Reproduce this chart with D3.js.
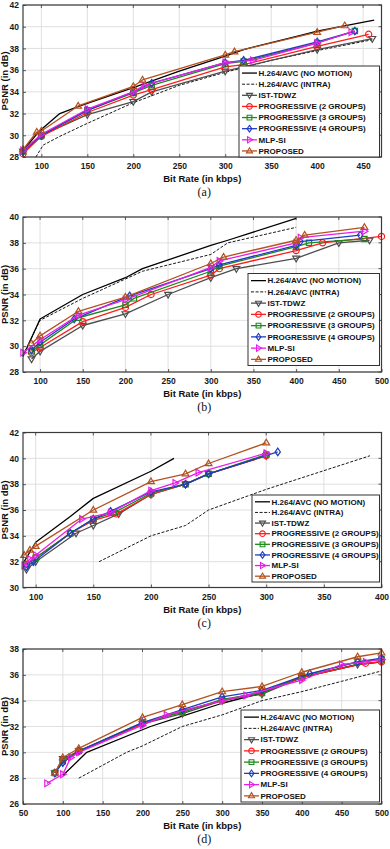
<!DOCTYPE html>
<html><head><meta charset="utf-8">
<script src="https://cdn.jsdelivr.net/npm/d3@7"></script>
<style>body{margin:0;background:#fff}svg{display:block}</style>
</head><body><script>
// ---------- DATA ----------
const SERIES = ["H.264/AVC (NO MOTION)","H.264/AVC (INTRA)","IST-TDWZ","PROGRESSIVE (2 GROUPS)","PROGRESSIVE (3 GROUPS)","PROGRESSIVE (4 GROUPS)","MLP-SI","PROPOSED"];
const CAPTIONS = ["(a)","(b)","(c)","(d)"];
const X_TITLE = "Bit Rate (in kbps)";
const Y_TITLE = "PSNR (in dB)";

// panel (a)
const A_XDOM = [80,470], A_YDOM = [28,42];
const A_XTICKS = [100,150,200,250,300,350,400,450];
const A_YTICKS = [28,30,32,34,36,38,40,42];
const A_NOMOTION = [[80,28.6],[98,30.4],[120,32.0],[142,32.7],[200,34.4],[250,35.9],[300,37.3],[320,37.9],[382,39.2],[400,39.6],[462,40.6]];
const A_INTRA = [[94,28.0],[102,29.1],[120,29.9],[150,31.1],[200,33.0],[250,34.6],[300,35.8],[350,36.9],[400,37.8],[460,38.8]];
const A_IST = [[80,28.5],[100,30.0],[150,31.9],[200,33.1],[220,34.0],[300,35.9],[320,36.3],[400,37.9],[460,38.9]];
const A_PROG2 = [[80,28.3],[100,29.9],[150,32.1],[200,33.7],[220,34.2],[300,36.3],[320,36.5],[400,38.2],[456,39.3]];
const A_PROG3 = [[80,28.5],[100,30.0],[150,32.3],[200,33.9],[220,34.6],[300,36.6],[320,36.8],[400,38.5],[441,39.6]];
const A_PROG4 = [[80,28.5],[100,30.0],[150,32.3],[200,34.0],[220,34.8],[300,36.7],[320,36.9],[400,38.6],[441,39.6]];
const A_MLP = [[80,28.6],[100,30.1],[150,32.4],[200,34.0],[212,34.6],[300,36.7],[330,36.9],[400,38.5],[437,39.5]];
const A_PROP = [[80,28.7],[95,30.3],[100,30.4],[140,32.7],[200,34.5],[210,35.1],[300,37.4],[310,37.7],[400,39.5],[430,40.1]];

// panel (b)
const B_XDOM = [80,500], B_YDOM = [28,40];
const B_XTICKS = [100,150,200,250,300,350,400,450,500];
const B_YTICKS = [28,30,32,34,36,38,40];
const B_NOMOTION = [[80,29.2],[100,32.1],[150,34.0],[200,35.3],[220,36.0],[300,37.8],[320,38.2],[400,39.9]];
const B_INTRA = [[80,29.3],[100,32.0],[150,33.7],[200,35.2],[220,35.8],[300,37.1],[320,38.0],[400,39.2]];
const B_IST = [[90,29.0],[100,29.6],[150,31.6],[200,32.5],[250,34.0],[300,35.3],[330,36.0],[400,36.8],[450,38.0],[486,38.2]];
const B_PROG2 = [[90,29.5],[100,29.9],[150,31.9],[200,33.0],[230,34.0],[300,35.5],[310,36.0],[400,37.4],[431,38.0],[500,38.5]];
const B_PROG3 = [[90,29.6],[100,30.1],[145,32.2],[200,33.2],[210,33.7],[300,35.8],[310,36.2],[400,37.7],[415,38.0],[480,38.3]];
const B_PROG4 = [[90,29.7],[100,30.3],[140,32.1],[205,33.9],[300,36.0],[310,36.3],[400,37.8],[405,38.1],[475,38.6]];
const B_MLP = [[80,29.5],[100,30.5],[145,32.4],[200,33.6],[300,36.1],[310,36.6],[400,38.0],[405,38.4],[480,38.9]];
const B_PROP = [[90,30.2],[100,30.8],[145,32.7],[200,33.8],[300,36.4],[315,36.9],[400,38.2],[410,38.6],[480,39.2]];

// panel (c)
const C_XDOM = [89,400], C_YDOM = [30,42];
const C_XTICKS = [100,150,200,250,300,350,400];
const C_YTICKS = [30,32,34,36,38,40,42];
const C_NOMOTION = [[90,32.0],[100,33.5],[130,35.5],[150,36.9],[200,39.0],[220,40.0]];
const C_INTRA = [[155,32.0],[200,34.0],[230,34.8],[250,36.0],[300,37.6],[390,40.2]];
const C_IST = [[92,31.4],[100,32.0],[135,34.2],[150,34.8],[172,35.7],[200,37.2],[230,38.0],[250,38.8],[300,40.2]];
const C_PROG2 = [[92,31.8],[100,32.3],[130,34.2],[150,35.2],[170,35.7],[200,37.2],[230,38.0],[250,38.8],[300,40.2]];
const C_PROG3 = [[92,31.8],[100,32.3],[130,34.2],[150,35.3],[168,35.8],[200,37.3],[230,38.0],[250,38.8],[300,40.3]];
const C_PROG4 = [[92,31.6],[98,32.0],[130,34.2],[150,35.3],[165,35.9],[200,37.4],[230,38.0],[250,38.8],[310,40.5]];
const C_MLP = [[90,31.7],[95,32.2],[100,32.5],[140,35.3],[165,35.8],[200,37.5],[221,38.1],[241,38.9],[300,40.4]];
const C_PROP = [[90,32.5],[95,32.9],[100,33.2],[150,36.0],[200,38.2],[230,38.8],[250,39.6],[300,41.2]];

// panel (d)
const D_XDOM = [50,500], D_YDOM = [26,38];
const D_XTICKS = [50,100,150,200,250,300,350,400,450,500];
const D_YTICKS = [26,28,30,32,34,36,38];
const D_NOMOTION = [[100,28.2],[130,30.0],[210,32.0],[250,32.8],[300,33.8],[350,34.6],[400,35.8],[470,36.8],[500,37.0]];
const D_INTRA = [[120,28.0],[180,30.0],[200,30.5],[250,32.0],[300,32.9],[350,34.0],[400,34.7],[450,35.5],[500,36.3]];
const D_IST = [[90,28.4],[100,29.5],[120,30.1],[200,32.2],[250,33.0],[300,34.0],[350,34.5],[400,35.8],[470,36.8],[500,37.0]];
const D_PROG2 = [[90,28.4],[100,29.4],[120,30.1],[200,32.2],[250,33.2],[300,34.0],[350,34.7],[400,35.8],[480,36.9],[500,37.0]];
const D_PROG3 = [[90,28.4],[100,29.3],[120,30.1],[200,32.3],[250,33.1],[300,34.1],[350,34.6],[400,35.9],[470,37.0],[500,37.2]];
const D_PROG4 = [[90,28.4],[100,29.2],[120,30.1],[200,32.3],[250,33.3],[300,34.3],[350,34.8],[410,36.1],[470,37.0],[500,37.3]];
const D_MLP = [[80,27.6],[100,28.3],[110,29.6],[120,30.0],[200,32.1],[230,32.9],[300,34.0],[330,34.4],[400,35.6],[450,36.8],[480,37.0],[500,37.2]];
const D_PROP = [[90,28.4],[100,29.6],[120,30.3],[200,32.7],[250,33.7],[300,34.7],[350,35.1],[400,36.2],[470,37.4],[500,37.7]];

// ---------- STYLE / LAYOUT ----------
const W = 390, H = 849, LEFT = 23, RIGHT = 381.5;
const STYLES = [
  {color:"#000000", w:1.3, dash:null, marker:null},
  {color:"#000000", w:0.9, dash:"3,1.6", marker:null},
  {color:"#4d4d4d", w:1.3, dash:null, marker:"tdown"},
  {color:"#ff1c1c", w:1.3, dash:null, marker:"circle"},
  {color:"#1b8a1b", w:1.3, dash:null, marker:"square"},
  {color:"#1f3cbf", w:1.3, dash:null, marker:"diamond"},
  {color:"#e81ee8", w:1.3, dash:null, marker:"tright"},
  {color:"#b4511f", w:1.3, dash:null, marker:"tup"}
];
const PANELS = [
  {top:5, bottom:157, xd:A_XDOM, yd:A_YDOM, xt:A_XTICKS, yt:A_YTICKS,
   data:[A_NOMOTION,A_INTRA,A_IST,A_PROG2,A_PROG3,A_PROG4,A_MLP,A_PROP], lg:{x:239,y:66,h:91}},
  {top:217, bottom:372, xd:B_XDOM, yd:B_YDOM, xt:B_XTICKS, yt:B_YTICKS,
   data:[B_NOMOTION,B_INTRA,B_IST,B_PROG2,B_PROG3,B_PROG4,B_MLP,B_PROP], lg:{x:248,y:273.5,h:92}},
  {top:432.5, bottom:587.5, xd:C_XDOM, yd:C_YDOM, xt:C_XTICKS, yt:C_YTICKS,
   data:[C_NOMOTION,C_INTRA,C_IST,C_PROG2,C_PROG3,C_PROG4,C_MLP,C_PROP], lg:{x:252,y:495,h:87}},
  {top:649, bottom:804, xd:D_XDOM, yd:D_YDOM, xt:D_XTICKS, yt:D_YTICKS,
   data:[D_NOMOTION,D_INTRA,D_IST,D_PROG2,D_PROG3,D_PROG4,D_MLP,D_PROP], lg:{x:241,y:710,h:92}}
];
const FONT = "'Liberation Sans', Arial, sans-serif";

function markerPath(type, r){
  switch(type){
    case "circle": return d3.symbol(d3.symbolCircle, Math.PI*r*r)();
    case "square": { const s=r*0.85; return `M${-s},${-s}H${s}V${s}H${-s}Z`; }
    case "diamond": { const a=r*0.85, b=r*1.2; return `M0,${-b}L${a},0L0,${b}L${-a},0Z`; }
    case "tup": { const t=r*1.15; return `M0,${-t}L${t*0.95},${t*0.6}L${-t*0.95},${t*0.6}Z`; }
    case "tdown": { const t=r*1.15; return `M0,${t}L${t*0.95},${-t*0.6}L${-t*0.95},${-t*0.6}Z`; }
    case "tright": { const t=r*1.15; return `M${t},0L${-t*0.6},${t*0.95}L${-t*0.6},${-t*0.95}Z`; }
  }
  return null;
}

const svg = d3.select("body").append("svg").attr("width", W).attr("height", H)
  .style("font-family", FONT);

PANELS.forEach((p, pi) => {
  const x = d3.scaleLinear().domain(p.xd).range([LEFT, RIGHT]);
  const y = d3.scaleLinear().domain(p.yd).range([p.bottom, p.top]);
  const g = svg.append("g");

  // grid
  g.append("g").selectAll("line.vx").data(p.xt).join("line")
    .attr("x1", d=>x(d)).attr("x2", d=>x(d)).attr("y1", p.top).attr("y2", p.bottom)
    .attr("stroke", "#dcdcdc").attr("stroke-width", 0.9);
  g.append("g").selectAll("line.hy").data(p.yt).join("line")
    .attr("y1", d=>y(d)).attr("y2", d=>y(d)).attr("x1", LEFT).attr("x2", RIGHT)
    .attr("stroke", "#dcdcdc").attr("stroke-width", 0.9);

  // axes via d3 axis
  const xAxis = d3.axisBottom(x).tickValues(p.xt).tickSize(-3).tickPadding(6).tickFormat(d3.format("d"));
  const yAxis = d3.axisLeft(y).tickValues(p.yt).tickSize(-3).tickPadding(4).tickFormat(d3.format("d"));
  const xa = g.append("g").attr("transform", `translate(0,${p.bottom})`).call(xAxis);
  const ya = g.append("g").attr("transform", `translate(${LEFT},0)`).call(yAxis);
  [xa, ya].forEach(a => {
    a.select(".domain").remove();
    a.selectAll(".tick line").attr("stroke", "#333").attr("stroke-width", 0.8);
    a.selectAll("text").attr("font-size", 8.5).attr("font-weight", "bold").attr("fill", "#1a1a1a")
      .attr("font-family", FONT);
  });
  // top/right ticks
  g.append("g").selectAll("line").data(p.xt).join("line")
    .attr("x1", d=>x(d)).attr("x2", d=>x(d)).attr("y1", p.top).attr("y2", p.top+3)
    .attr("stroke", "#333").attr("stroke-width", 0.8);
  g.append("g").selectAll("line").data(p.yt).join("line")
    .attr("y1", d=>y(d)).attr("y2", d=>y(d)).attr("x1", RIGHT).attr("x2", RIGHT-3)
    .attr("stroke", "#333").attr("stroke-width", 0.8);

  // series
  const line = d3.line().x(d=>x(d[0])).y(d=>y(d[1]));
  p.data.forEach((ser, si) => {
    const st = STYLES[si];
    g.append("path").datum(ser).attr("d", line)
      .attr("fill", "none").attr("stroke", st.color).attr("stroke-width", st.w)
      .attr("stroke-dasharray", st.dash).attr("stroke-linejoin", "round");
    if (st.marker) {
      g.append("g").selectAll("path").data(ser).join("path")
        .attr("transform", d=>`translate(${x(d[0])},${y(d[1])})`)
        .attr("d", markerPath(st.marker, 3.1))
        .attr("fill", "none").attr("stroke", st.color).attr("stroke-width", 1.2);
    }
  });

  // frame
  g.append("rect").attr("x", LEFT).attr("y", p.top).attr("width", RIGHT-LEFT).attr("height", p.bottom-p.top)
    .attr("fill", "none").attr("stroke", "#3a3a3a").attr("stroke-width", 1.2);

  // legend
  const L = p.lg, lw = RIGHT - 2 - L.x, gap = (L.h - 2) / 8;
  const lg = g.append("g");
  lg.append("rect").attr("x", L.x).attr("y", L.y).attr("width", lw).attr("height", L.h)
    .attr("fill", "#fff").attr("stroke", "#333").attr("stroke-width", 1);
  SERIES.forEach((name, si) => {
    const st = STYLES[si], yy = L.y + gap/2 + 1.5 + si*gap;
    lg.append("line").attr("x1", L.x+3).attr("x2", L.x+18).attr("y1", yy).attr("y2", yy)
      .attr("stroke", st.color).attr("stroke-width", st.w).attr("stroke-dasharray", st.dash);
    if (st.marker) lg.append("path").attr("transform", `translate(${L.x+10.5},${yy})`)
      .attr("d", markerPath(st.marker, 2.8)).attr("fill", "none").attr("stroke", st.color).attr("stroke-width", 1.1);
    lg.append("text").attr("x", L.x+19.5).attr("y", yy).attr("dy", "0.35em")
      .attr("font-size", 8).attr("font-weight", "bold").attr("fill", "#111").text(name);
  });

  // titles
  g.append("text").attr("x", (LEFT+RIGHT)/2).attr("y", p.bottom+22).attr("dy", "0.35em")
    .attr("text-anchor", "middle").attr("font-size", 9.5).attr("font-weight", "bold").attr("fill", "#111").text(X_TITLE);
  g.append("text").attr("transform", `translate(5,${(p.top+p.bottom)/2}) rotate(-90)`).attr("dy", "0.35em")
    .attr("text-anchor", "middle").attr("font-size", 9.5).attr("font-weight", "bold").attr("fill", "#111").text(Y_TITLE);
  g.append("text").attr("x", (LEFT+RIGHT)/2 + 2).attr("y", p.bottom+35).attr("dy", "0.35em")
    .attr("text-anchor", "middle").attr("font-size", 12).attr("font-family", "'Liberation Serif','DejaVu Serif',serif")
    .attr("fill", "#111").text(CAPTIONS[pi]);
});
</script></body></html>
